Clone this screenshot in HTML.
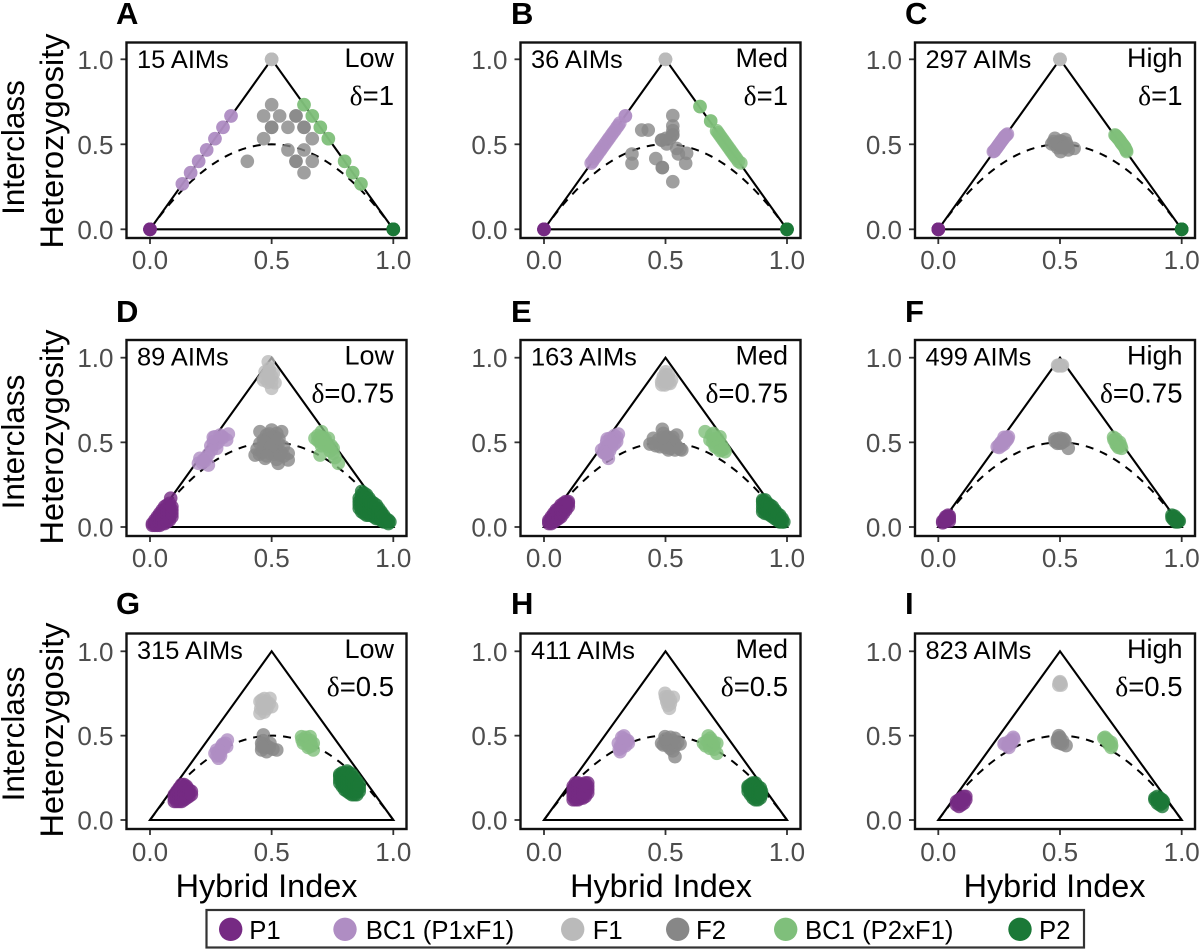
<!DOCTYPE html>
<html lang="en">
<head>
<meta charset="utf-8">
<title>Triangle plots</title>
<style>
html,body{margin:0;padding:0;background:#fff;}
svg{display:block;}
text{font-family:"Liberation Sans",sans-serif;}
</style>
</head>
<body>
<svg id="chart" width="1200" height="949" viewBox="0 0 1200 949" xmlns="http://www.w3.org/2000/svg"></svg>
<script>
// ---------- data (hybrid index, interclass heterozygosity) ----------
const seriesNames = ["P1","BC1a","F1","F2","BC1b","P2"];
const tickValues = [0, 0.5, 1];
const tickLabels = ["0.0", "0.5", "1.0"];
const panelLetters = ["A","B","C","D","E","F","G","H","I"];
const aimCounts = ["15 AIMs","36 AIMs","297 AIMs","89 AIMs","163 AIMs","499 AIMs","315 AIMs","411 AIMs","823 AIMs"];
const levelLabels = ["Low","Med","High","Low","Med","High","Low","Med","High"];
const deltaLabels = ["=1","=1","=1","=0.75","=0.75","=0.75","=0.5","=0.5","=0.5"];
const legendLabels = ["P1","BC1 (P1xF1)","F1","F2","BC1 (P2xF1)","P2"];

const A_P1=[[0,0],[0,0],[0,0],[0,0],[0,0]];
const A_BC1a=[[.133,.267],[.167,.333],[.2,.4],[.233,.467],[.267,.533],[.3,.6],[.333,.667],[.133,.267],[.167,.333],[.2,.4],[.233,.467],[.267,.533],[.3,.6],[.333,.667]];
const A_F1=[[.5,1],[.5,1],[.5,1],[.5,1]];
const A_F2=[[.5,.733],[.467,.667],[.533,.667],[.6,.667],[.6,.667],[.5,.6],[.5,.6],[.567,.6],[.633,.6],[.633,.6],[.467,.533],[.667,.533],[.567,.467],[.633,.467],[.6,.4],[.6,.4],[.667,.4],[.633,.333],[.4,.4]];
const A_BC1b=[[.633,.733],[.667,.667],[.7,.6],[.733,.533],[.8,.4],[.833,.333],[.867,.267],[.633,.733],[.667,.667],[.7,.6],[.733,.533],[.8,.4],[.833,.333],[.867,.267]];
const A_P2=[[1,0],[1,0],[1,0],[1,0],[1,0]];

const B_P1=[[0,0],[0,0],[0,0],[0,0],[0,0]];
const B_BC1a=[[.194,.389],[.2,.4],[.208,.417],[.215,.43],[.222,.444],[.23,.46],[.236,.472],[.243,.486],[.25,.5],[.257,.514],[.264,.528],[.27,.54],[.278,.556],[.285,.57],[.292,.583],[.3,.6],[.306,.611],[.312,.625],[.335,.667],[.335,.667]];
const B_F1=[[.5,1],[.5,1],[.5,1],[.5,1]];
const B_F2=[[.53,.669],[.53,.608],[.53,.555],[.53,.555],[.402,.584],[.429,.584],[.484,.525],[.484,.525],[.505,.502],[.546,.476],[.587,.447],[.553,.443],[.362,.443],[.362,.388],[.46,.416],[.487,.363],[.487,.363],[.583,.388],[.53,.28],[.519,.535],[.502,.535],[.53,.58]];
const B_BC1b=[[.642,.722],[.642,.722],[.686,.637],[.686,.637],[.71,.58],[.716,.568],[.722,.556],[.729,.542],[.736,.528],[.743,.514],[.75,.5],[.757,.486],[.764,.472],[.771,.458],[.778,.444],[.785,.43],[.792,.417],[.8,.4],[.81,.39]];
const B_P2=[[1,0],[1,0],[1,0],[1,0],[1,0]];

const C_P1=[[0,0],[0,0],[0,0],[0,0],[0,0]];
const C_BC1a=[[.226,.457],[.233,.467],[.24,.48],[.247,.494],[.253,.506],[.26,.52],[.267,.533],[.273,.546],[.28,.555],[.284,.56],[.23,.46],[.237,.474],[.244,.488],[.25,.5],[.257,.514],[.263,.526],[.27,.54],[.277,.55]];
const C_F1=[[.5,1],[.5,1],[.5,1],[.5,1]];
const C_F2=[[.479,.535],[.521,.529],[.466,.502],[.493,.502],[.527,.506],[.558,.476],[.503,.457],[.534,.467],[.507,.516],[.473,.516],[.5,.49],[.49,.48],[.51,.5],[.52,.48],[.48,.5],[.5,.52],[.49,.51],[.51,.48],[.53,.49]];
const C_BC1b=[[.726,.555],[.733,.545],[.74,.533],[.747,.52],[.753,.506],[.76,.494],[.767,.48],[.774,.457],[.73,.55],[.737,.538],[.744,.526],[.75,.513],[.757,.5],[.764,.487],[.77,.47],[.772,.465]];
const C_P2=[[1,0],[1,0],[1,0],[1,0],[1,0]];

const D_P1=[[.01,.01],[.01,.02],[.02,.01],[.02,.02],[.02,.03],[.02,.04],[.03,.01],[.03,.03],[.03,.05],[.03,.06],[.04,.01],[.04,.03],[.04,.05],[.04,.07],[.04,.08],[.05,.02],[.05,.04],[.05,.06],[.05,.08],[.05,.1],[.06,.02],[.06,.04],[.06,.06],[.06,.08],[.06,.1],[.06,.12],[.07,.03],[.07,.05],[.07,.07],[.07,.09],[.07,.11],[.07,.13],[.08,.04],[.08,.06],[.08,.08],[.08,.1],[.08,.12],[.08,.14],[.085,.17],[.09,.06],[.09,.08],[.09,.1],[.09,.12]];
const D_BC1a=[[.322,.549],[.267,.533],[.26,.504],[.315,.514],[.274,.465],[.253,.455],[.219,.396],[.199,.376],[.24,.366],[.205,.406],[.288,.543],[.295,.533],[.28,.5],[.27,.49],[.3,.53],[.24,.43],[.23,.41],[.215,.38],[.25,.48],[.225,.39],[.26,.53]];
const D_F1=[[.486,.976],[.473,.917],[.507,.907],[.473,.878],[.5,.858],[.514,.852],[.466,.868],[.5,.819],[.49,.937],[.48,.9],[.49,.88],[.5,.89],[.485,.855],[.49,.92]];
const D_F2=[[.452,.563],[.541,.563],[.479,.543],[.514,.533],[.466,.514],[.493,.504],[.527,.494],[.452,.494],[.548,.474],[.479,.465],[.507,.455],[.466,.474],[.568,.435],[.432,.425],[.473,.406],[.527,.376],[.568,.396],[.534,.425],[.493,.435],[.521,.553],[.5,.573],[.48,.52],[.5,.53],[.51,.51],[.49,.48],[.52,.47],[.46,.44],[.45,.43],[.54,.44],[.55,.42],[.51,.43],[.49,.55],[.47,.5],[.5,.48],[.53,.52],[.44,.46],[.52,.4],[.48,.42]];
const D_BC1b=[[.705,.563],[.678,.524],[.719,.504],[.733,.474],[.753,.465],[.699,.425],[.753,.435],[.774,.376],[.699,.533],[.733,.524],[.69,.54],[.71,.53],[.7,.5],[.72,.52],[.69,.51],[.705,.48],[.74,.45],[.745,.48],[.715,.49],[.76,.41]];
const D_P2=[[.86,.11],[.86,.13],[.86,.15],[.86,.17],[.87,.09],[.87,.11],[.87,.13],[.87,.15],[.87,.17],[.87,.19],[.87,.21],[.88,.08],[.88,.1],[.88,.12],[.88,.14],[.88,.16],[.88,.18],[.88,.2],[.89,.07],[.89,.09],[.89,.11],[.89,.13],[.89,.15],[.89,.17],[.89,.19],[.9,.07],[.9,.09],[.9,.11],[.9,.13],[.9,.15],[.9,.17],[.91,.07],[.91,.09],[.91,.11],[.91,.13],[.91,.15],[.92,.06],[.92,.08],[.92,.1],[.92,.12],[.92,.14],[.93,.05],[.93,.07],[.93,.09],[.93,.11],[.93,.13],[.94,.05],[.94,.07],[.94,.09],[.94,.11],[.95,.04],[.95,.06],[.95,.08],[.95,.09],[.96,.03],[.96,.05],[.96,.07],[.97,.03],[.97,.05],[.98,.02],[.98,.04],[.986,.03]];

const E_P1=[[.02,.02],[.02,.03],[.02,.04],[.03,.02],[.03,.04],[.03,.05],[.03,.06],[.04,.03],[.04,.05],[.04,.07],[.04,.08],[.05,.04],[.05,.06],[.05,.08],[.05,.09],[.05,.1],[.06,.05],[.06,.07],[.06,.09],[.06,.11],[.07,.06],[.07,.08],[.07,.1],[.07,.12],[.07,.13],[.08,.08],[.08,.1],[.08,.12],[.08,.14],[.09,.1],[.09,.12],[.09,.14],[.09,.15],[.1,.12],[.1,.14],[.1,.15]];
const E_BC1a=[[.306,.549],[.272,.524],[.258,.504],[.299,.504],[.278,.474],[.237,.455],[.251,.435],[.265,.406],[.285,.524],[.258,.465],[.29,.54],[.3,.53],[.28,.5],[.265,.485],[.25,.47],[.245,.44],[.26,.43],[.27,.45],[.26,.52],[.29,.49]];
const E_F1=[[.501,.917],[.491,.888],[.512,.898],[.484,.858],[.519,.848],[.498,.839],[.525,.868],[.5,.88],[.51,.87],[.49,.87],[.5,.9],[.485,.84],[.51,.85]];
const E_F2=[[.487,.577],[.45,.524],[.436,.49],[.47,.514],[.505,.533],[.546,.543],[.532,.504],[.567,.455],[.505,.484],[.477,.474],[.539,.455],[.519,.465],[.491,.553],[.45,.494],[.512,.455],[.49,.51],[.52,.52],[.51,.5],[.48,.49],[.54,.49],[.55,.47],[.53,.53],[.5,.47],[.46,.48],[.56,.46],[.49,.53]];
const E_BC1b=[[.663,.563],[.697,.553],[.724,.533],[.683,.514],[.711,.504],[.731,.484],[.704,.474],[.745,.445],[.731,.455],[.69,.543],[.7,.52],[.715,.52],[.695,.5],[.72,.49],[.71,.47],[.73,.47],[.725,.45],[.74,.46]];
const E_P2=[[.9,.09],[.9,.11],[.9,.13],[.9,.15],[.9,.16],[.91,.08],[.91,.1],[.91,.12],[.91,.14],[.91,.16],[.92,.08],[.92,.1],[.92,.12],[.92,.14],[.93,.07],[.93,.09],[.93,.11],[.93,.13],[.94,.06],[.94,.08],[.94,.1],[.94,.12],[.95,.05],[.95,.07],[.95,.09],[.95,.1],[.96,.04],[.96,.06],[.96,.08],[.97,.03],[.97,.05],[.97,.07],[.98,.03],[.98,.05],[.987,.03]];

const F_P1=[[.018,.025],[.018,.035],[.025,.03],[.025,.045],[.03,.035],[.03,.05],[.035,.04],[.035,.06],[.04,.045],[.04,.06],[.04,.07],[.045,.05],[.045,.065],[.03,.06],[.045,.035]];
const F_BC1a=[[.242,.474],[.25,.485],[.258,.5],[.266,.51],[.275,.52],[.288,.533],[.28,.51],[.26,.48],[.25,.47],[.27,.49],[.28,.53],[.27,.53],[.285,.52],[.255,.49],[.265,.5]];
const F_F1=[[.497,.957],[.493,.951],[.507,.951],[.5,.955],[.49,.955],[.51,.955]];
const F_F2=[[.479,.52],[.5,.513],[.52,.51],[.503,.494],[.534,.465],[.489,.494],[.49,.51],[.51,.5],[.495,.5],[.48,.505],[.5,.525],[.515,.52]];
const F_BC1b=[[.722,.514],[.732,.504],[.742,.485],[.753,.465],[.73,.49],[.745,.5],[.72,.53],[.73,.52],[.74,.47],[.75,.48],[.735,.48]];
const F_P2=[[.96,.07],[.965,.06],[.97,.05],[.975,.04],[.98,.05],[.985,.03],[.99,.035],[.96,.055],[.97,.065],[.975,.03],[.965,.045],[.98,.035],[.985,.04]];

const G_P1=[[.1,.11],[.1,.13],[.1,.15],[.11,.11],[.11,.13],[.11,.15],[.11,.17],[.12,.11],[.12,.13],[.12,.15],[.12,.17],[.12,.19],[.13,.11],[.13,.13],[.13,.15],[.13,.17],[.13,.19],[.13,.21],[.14,.12],[.14,.14],[.14,.16],[.14,.18],[.14,.2],[.14,.21],[.15,.13],[.15,.15],[.15,.17],[.15,.19],[.15,.2],[.16,.14],[.16,.16],[.16,.18],[.17,.15],[.17,.17]];
const G_BC1a=[[.318,.474],[.315,.435],[.274,.415],[.267,.395],[.281,.366],[.301,.425],[.288,.395],[.31,.455],[.3,.45],[.29,.42],[.28,.4],[.295,.44],[.275,.38],[.305,.44],[.285,.41],[.29,.38]];
const G_F1=[[.459,.711],[.493,.721],[.452,.632],[.479,.682],[.466,.662],[.5,.672],[.452,.702],[.47,.72],[.46,.68],[.48,.7],[.49,.69],[.455,.66],[.47,.64],[.465,.69],[.48,.66]];
const G_F2=[[.466,.504],[.459,.455],[.459,.415],[.493,.455],[.521,.415],[.479,.405],[.479,.44],[.465,.47],[.47,.43],[.49,.43],[.505,.42],[.46,.435]];
const G_BC1b=[[.623,.494],[.658,.494],[.671,.455],[.651,.455],[.671,.415],[.63,.455],[.64,.49],[.64,.47],[.66,.47],[.65,.43],[.665,.44],[.655,.44],[.625,.475]];
const G_P2=[[.78,.22],[.78,.24],[.78,.26],[.78,.27],[.79,.2],[.79,.22],[.79,.24],[.79,.26],[.79,.28],[.8,.18],[.8,.2],[.8,.22],[.8,.24],[.8,.26],[.8,.28],[.81,.17],[.81,.19],[.81,.21],[.81,.23],[.81,.25],[.81,.27],[.81,.29],[.82,.16],[.82,.18],[.82,.2],[.82,.22],[.82,.24],[.82,.26],[.82,.28],[.83,.15],[.83,.17],[.83,.19],[.83,.21],[.83,.23],[.83,.25],[.83,.27],[.84,.15],[.84,.17],[.84,.19],[.84,.21],[.84,.23],[.84,.25],[.85,.15],[.85,.17],[.85,.19],[.85,.21],[.85,.23],[.86,.17],[.86,.19],[.86,.21]];

const H_P1=[[.12,.12],[.12,.14],[.12,.16],[.12,.18],[.12,.2],[.13,.12],[.13,.14],[.13,.16],[.13,.18],[.13,.2],[.13,.22],[.14,.12],[.14,.14],[.14,.16],[.14,.18],[.14,.2],[.14,.22],[.15,.13],[.15,.15],[.15,.17],[.15,.19],[.15,.21],[.16,.13],[.16,.15],[.16,.17],[.16,.19],[.16,.21],[.17,.14],[.17,.16],[.17,.18],[.17,.2],[.17,.22],[.18,.16],[.18,.18],[.18,.2],[.18,.22]];
const H_BC1a=[[.329,.498],[.306,.455],[.347,.455],[.313,.405],[.326,.464],[.33,.48],[.315,.44],[.34,.47],[.32,.43],[.31,.42],[.335,.44],[.345,.47],[.32,.49]];
const H_F1=[[.498,.751],[.532,.727],[.505,.702],[.516,.662],[.512,.731],[.5,.73],[.52,.71],[.51,.68],[.52,.69],[.505,.72]];
const H_F2=[[.498,.494],[.539,.484],[.56,.451],[.491,.445],[.519,.425],[.539,.375],[.484,.455],[.525,.455],[.51,.47],[.5,.46],[.53,.47],[.54,.44],[.51,.44],[.52,.49],[.53,.41],[.55,.46],[.5,.48]];
const H_BC1b=[[.676,.498],[.656,.455],[.711,.455],[.711,.395],[.683,.425],[.697,.445],[.67,.47],[.69,.47],[.68,.45],[.7,.42],[.665,.44],[.7,.46],[.685,.485]];
const H_P2=[[.84,.17],[.84,.19],[.84,.2],[.85,.15],[.85,.17],[.85,.19],[.85,.21],[.86,.13],[.86,.15],[.86,.17],[.86,.19],[.86,.21],[.86,.22],[.87,.12],[.87,.14],[.87,.16],[.87,.18],[.87,.2],[.87,.22],[.88,.12],[.88,.14],[.88,.16],[.88,.18],[.88,.2],[.89,.13],[.89,.15],[.89,.17],[.89,.19],[.895,.15],[.895,.17]];

const I_P1=[[.075,.09],[.075,.11],[.085,.08],[.085,.1],[.085,.12],[.095,.09],[.095,.11],[.095,.13],[.105,.1],[.105,.12],[.105,.14],[.113,.12],[.113,.14]];
const I_BC1a=[[.308,.49],[.288,.455],[.274,.455],[.301,.47],[.295,.47],[.285,.44],[.3,.455],[.31,.48],[.27,.45],[.29,.43]];
const I_F1=[[.497,.814],[.503,.81],[.5,.82],[.495,.8],[.505,.8],[.5,.81]];
const I_F2=[[.493,.484],[.503,.455],[.525,.441],[.489,.478],[.5,.49],[.51,.47],[.49,.46],[.5,.47],[.51,.45],[.495,.5]];
const I_BC1b=[[.685,.49],[.712,.441],[.699,.465],[.69,.48],[.71,.46],[.7,.45],[.68,.485],[.695,.475],[.71,.43]];
const I_P2=[[.89,.13],[.89,.12],[.9,.14],[.9,.12],[.9,.1],[.91,.13],[.91,.11],[.91,.09],[.92,.12],[.92,.1],[.92,.08],[.925,.11]];

const panelData = [
  [A_P1,A_BC1a,A_F1,A_F2,A_BC1b,A_P2],
  [B_P1,B_BC1a,B_F1,B_F2,B_BC1b,B_P2],
  [C_P1,C_BC1a,C_F1,C_F2,C_BC1b,C_P2],
  [D_P1,D_BC1a,D_F1,D_F2,D_BC1b,D_P2],
  [E_P1,E_BC1a,E_F1,E_F2,E_BC1b,E_P2],
  [F_P1,F_BC1a,F_F1,F_F2,F_BC1b,F_P2],
  [G_P1,G_BC1a,G_F1,G_F2,G_BC1b,G_P2],
  [H_P1,H_BC1a,H_F1,H_F2,H_BC1b,H_P2],
  [I_P1,I_BC1a,I_F1,I_F2,I_BC1b,I_P2]
];

// ---------- layout & style ----------
const colours = ["#762A83","#AF8DC3","#BABABA","#878787","#7FBF7B","#1B7837"];
const columns = [
  {left:126.5,right:406.5,x0:150,x1:393.3,letterX:116,titleX:266.5},
  {left:520.5,right:800.5,x0:544,x1:787,letterX:511,titleX:661},
  {left:915,right:1195,x0:938.3,x1:1181.7,letterX:905,titleX:1054.5}
];
const rows = [
  {top:42.5,bottom:238,y1:59.3,y0:229.3,letterY:24,tickY:269,hetY:141,intY:147.5},
  {top:340,bottom:536,y1:357.7,y0:527,letterY:322,tickY:567,hetY:437,intY:442},
  {top:633.5,bottom:829,y1:651.3,y0:820,letterY:614,tickY:861,hetY:730,intY:734}
];
const legendItems = [[230.7,249.3],[345,365.7],[572.7,592.7],[677.7,696],[785.7,805],[1020,1039]];
const svg = document.getElementById('chart');
const NS = 'http://www.w3.org/2000/svg';

function node(parent, tag, attrs, text){
  const el = document.createElementNS(NS, tag);
  for (const k in attrs) el.setAttribute(k, attrs[k]);
  if (text !== undefined) el.textContent = text;
  parent.appendChild(el);
  return el;
}
function scaleX(col, v){ return col.x0 + v * (col.x1 - col.x0); }
function scaleY(row, v){ return row.y0 + v * (row.y1 - row.y0); }

panelLetters.forEach(function(letter, i){
  const col = columns[i % 3];
  const row = rows[Math.floor(i / 3)];
  const g = node(svg, 'g', {});
  
  

  const tag = node(g, 'text', {x:col.letterX, y:row.letterY, 'font-size':31, 'font-weight':'bold', fill:'#000'}, letter);
  
  

  tickValues.forEach(function(v, t){
    const yt = node(g, 'line', {x1:col.left-6, x2:col.left, y1:scaleY(row,v), y2:scaleY(row,v), stroke:'#333', 'stroke-width':1.8});
    
    
    const xt = node(g, 'line', {x1:scaleX(col,v), x2:scaleX(col,v), y1:row.bottom, y2:row.bottom+6, stroke:'#333', 'stroke-width':1.8});
    
    
    const yl = node(g, 'text', {x:col.left-13, y:scaleY(row,v)+9.5, 'font-size':26, fill:'#4D4D4D', 'text-anchor':'end'}, tickLabels[t]);
    
    
    const xl = node(g, 'text', {x:scaleX(col,v), y:row.tickY, 'font-size':26, fill:'#4D4D4D', 'text-anchor':'middle'}, tickLabels[t]);
    
    
  });

  const tri = node(g, 'polygon', {
    points:[[0,0],[.5,1],[1,0]].map(function(p){ return scaleX(col,p[0]) + ',' + scaleY(row,p[1]); }).join(' '),
    fill:'none', stroke:'#000', 'stroke-width':2.1, 'stroke-linejoin':'miter'
  });
  
  

  let d = '';
  for (let k = 0; k <= 100; k++){
    const h = k / 100;
    d += (k ? 'L' : 'M') + scaleX(col,h).toFixed(2) + ' ' + scaleY(row, 2*h*(1-h)).toFixed(2);
  }
  const para = node(g, 'path', {d:d, fill:'none', stroke:'#000', 'stroke-width':2, 'stroke-dasharray':'8 7'});
  
  

  panelData[i].forEach(function(points, s){
    points.forEach(function(p){
      const c = node(g, 'circle', {cx:scaleX(col,p[0]), cy:scaleY(row,p[1]), r:6.8, fill:colours[s], 'fill-opacity':0.8});
      
      
    });
  });

  const frame = node(g, 'rect', {x:col.left, y:row.top, width:col.right-col.left, height:row.bottom-row.top, fill:'none', stroke:'#111', 'stroke-width':2.4});
  
  

  const aims = node(g, 'text', {x:col.left+10.5, y:row.top+25.5, 'font-size':25.4, fill:'#000'}, aimCounts[i]);
  
  
  const lvl = node(g, 'text', {x:col.right-12.5, y:row.top+24.5, 'font-size':27, fill:'#000', 'text-anchor':'end'}, levelLabels[i]);
  
  
  const del = node(g, 'text', {x:col.right-12.5, y:row.top+62.5, 'font-size':27.5, fill:'#000', 'text-anchor':'end'});
  
  
  node(del, 'tspan', {style:'font-family:"Liberation Serif",serif'}, 'δ');
  node(del, 'tspan', {}, deltaLabels[i]);

  if (i % 3 === 0){
    const t1 = node(g, 'text', {transform:'translate(24,'+row.intY+') rotate(-90)', 'font-size':31.5, 'text-anchor':'middle', fill:'#000'}, 'Interclass');
    
    
    const t2 = node(g, 'text', {transform:'translate(63,'+row.hetY+') rotate(-90)', 'font-size':32.5, 'text-anchor':'middle', fill:'#000'}, 'Heterozygosity');
    
    
  }
  if (i >= 6){
    const xt = node(g, 'text', {x:col.titleX, y:897, 'font-size':32.4, 'text-anchor':'middle', fill:'#000'}, 'Hybrid Index');
    
    
  }
});

const legend = node(svg, 'g', {});


const legendBox = node(legend, 'rect', {x:206.5, y:910, width:877.5, height:37.5, fill:'#fff', stroke:'#333', 'stroke-width':2.2});


legendLabels.forEach(function(label, i){
  const dot = node(legend, 'circle', {cx:legendItems[i][0], cy:929.3, r:11.7, fill:colours[i]});
  
  
  const txt = node(legend, 'text', {x:legendItems[i][1], y:939, 'font-size':25.7, fill:'#000'}, label);
  
  
});
</script>
</body>
</html>
